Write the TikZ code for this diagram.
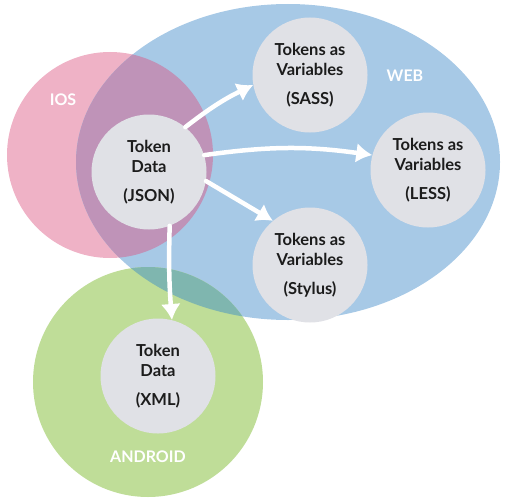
\documentclass[tikz,border=0pt]{standalone}
\usepackage{fontspec}
\setmainfont{Lato}
\usetikzlibrary{arrows.meta}
\definecolor{ios}{HTML}{EFB2C6}
\definecolor{web}{HTML}{A7C9E6}
\definecolor{android}{HTML}{BFDD98}
\definecolor{iosweb}{HTML}{BF93B8}
\definecolor{androidweb}{HTML}{7FB6AF}
\definecolor{blase}{HTML}{E0E1E6}
\definecolor{schrift}{HTML}{1C1C1C}
\newcommand{\webellipse}{(288,162) ellipse[x radius=212, y radius=158]}

\begin{document}
\begin{tikzpicture}[>={Latex[length=16pt,width=20pt]},x=1pt,y=-1pt,
	blasenknoten/.style={circle, fill=blase, minimum size=115pt, inner sep=0pt,
		align=center, text=schrift, font=\bfseries\fontsize{16.5}{20}\selectfont},
	gruppe/.style={text=white, font=\bfseries\fontsize{16}{18}\selectfont},
	pfeil/.style={->, white, line width=4.5pt, line cap=round}]

\useasboundingbox (0,0) rectangle (518,500);
\fill[color=ios] (110,155) circle[radius=103];
\fill[color=web] \webellipse;
\fill[color=android] (148,382) circle[radius=115];
\begin{scope}
	\clip (110,155) circle[radius=103];
	\fill[color=iosweb] \webellipse;
\end{scope}
\begin{scope}
	\clip (148,382) circle[radius=115];
	\fill[color=androidweb] \webellipse;
\end{scope}

\node[gruppe] (ioslabel) at (63,100) {IOS};
\node[gruppe] (weblabel) at (405,76) {WEB};
\node[gruppe] (androidlabel) at (148,457) {ANDROID};

\def\blase#1#2#3#4{
	\node[blasenknoten] (#1) at #2 {#3\\[9pt]#4};
}
\blase{json}{(149,172)}{Token\\Data}{(JSON)}
\blase{sass}{(310,75)}{Tokens as\\Variables}{(SASS)}
\blase{less}{(428,170)}{Tokens as\\Variables}{(LESS)}
\blase{stylus}{(310,265)}{Tokens as\\Variables}{(Stylus)}
\blase{xml}{(158,376)}{Token\\Data}{(XML)}

\draw[pfeil] (json.51) to[bend left=6] (sass.190);
\draw[pfeil] (json.17) to[bend left=8] (less.165);
\draw[pfeil] (json.-9) -- (stylus.130);
\draw[pfeil] (json.-69) to[bend right=3] (xml.76);

\end{tikzpicture}
\end{document}
